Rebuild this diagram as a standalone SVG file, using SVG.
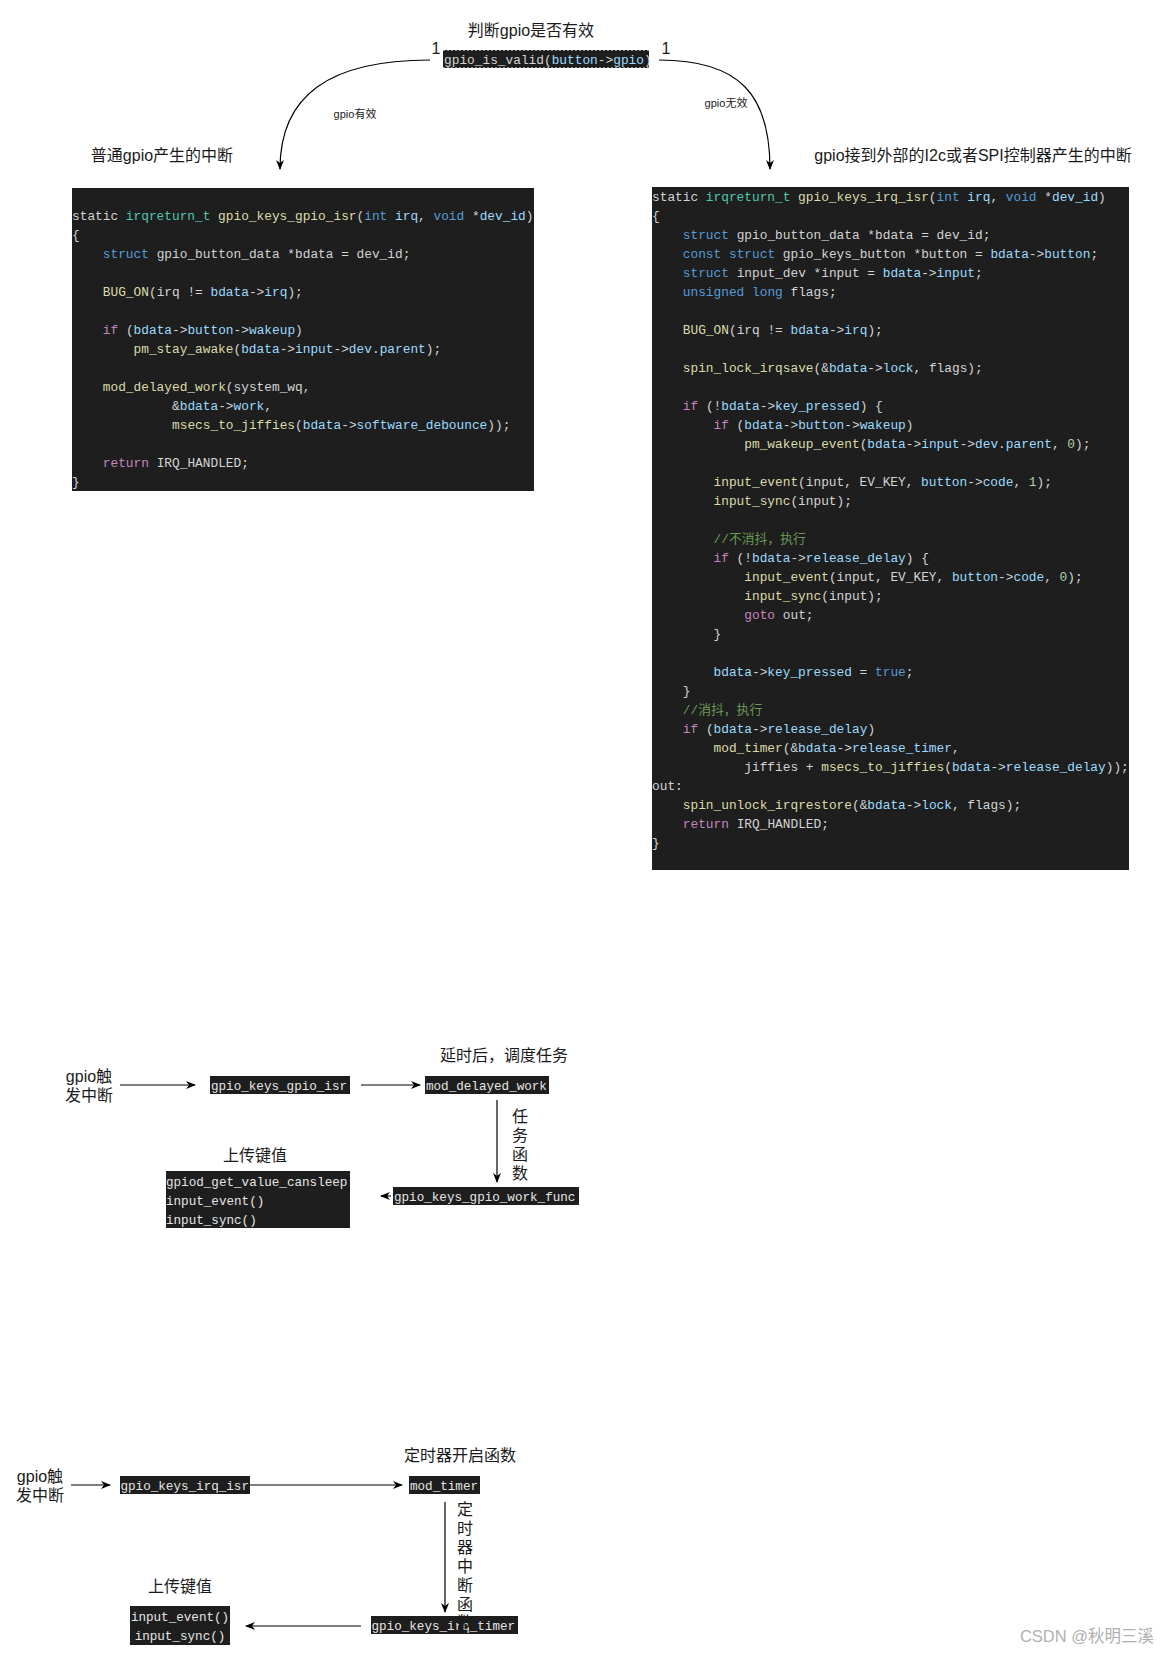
<svg xmlns="http://www.w3.org/2000/svg" width="1170" height="1654" viewBox="0 0 1170 1654">
<style>
.lbl{font-family:"Liberation Sans","Noto Sans CJK SC",sans-serif;font-size:16px;fill:#1a1a1a}
.sm{font-family:"Liberation Sans","Noto Sans CJK SC",sans-serif;font-size:11px;fill:#1a1a1a}
.code{font-family:"Liberation Mono","Noto Sans CJK SC",monospace;font-size:12.82px;fill:#d4d4d4}
.fc{font-family:"Liberation Mono","Noto Sans CJK SC",monospace;font-size:12.6px;fill:#e6e6e6}
.bg{fill:#1e1e1e}
.k{fill:#569cd6}.c{fill:#c586c0}.f{fill:#dcdcaa}.t{fill:#4ec9b0}.v{fill:#9cdcfe}.n{fill:#b5cea8}.m{fill:#6a9955}
.edge{fill:none;stroke:#000;stroke-width:1.2}
.wm{font-family:"Liberation Sans","Noto Sans CJK SC",sans-serif;font-size:16.5px;fill:#b0b0b0}
</style>
<defs>
<marker id="ah" viewBox="0 0 10 10" refX="9" refY="5" markerWidth="10" markerHeight="10" markerUnits="userSpaceOnUse" orient="auto"><path d="M0,1 L10,5 L0,9 L3,5 z" fill="#000"/></marker>
</defs>

<g id="connectors">
<path class="edge" d="M430,60 C330,60 280,95 280,169" marker-end="url(#ah)"/>
<path class="edge" d="M659,60 C740,60 770,95 770,169" marker-end="url(#ah)"/>
<path class="edge" d="M120,1085 L195,1085" stroke="#555" marker-end="url(#ah)"/>
<path class="edge" d="M361,1085 L420,1085" marker-end="url(#ah)"/>
<path class="edge" d="M497,1100 L497,1182" marker-end="url(#ah)"/>
<path class="edge" d="M391,1196 L381,1196" marker-end="url(#ah)"/>
<path class="edge" d="M71,1485 L110,1485" marker-end="url(#ah)"/>
<path class="edge" d="M250,1485 L402,1485" marker-end="url(#ah)"/>
<path class="edge" d="M445,1502 L445,1612" marker-end="url(#ah)"/>
<path class="edge" d="M361,1626 L246,1626" marker-end="url(#ah)"/>
</g>

<g id="edge-labels">
<text class="sm" x="355" y="118" text-anchor="middle">gpio有效</text>
<text class="sm" x="726" y="107" text-anchor="middle">gpio无效</text>
<text class="lbl" x="436" y="54" text-anchor="middle" font-size="13">1</text>
<text class="lbl" x="666" y="54" text-anchor="middle" font-size="13">1</text>
</g>

<g id="title">
<text class="lbl" x="531" y="36" text-anchor="middle">判断gpio是否有效</text>
</g>

<g id="node-valid">
<rect class="bg" x="443" y="50" width="206" height="18"/>
<path d="M443,50 H649 M443,68 H649" stroke="#fff" stroke-width="1" stroke-dasharray="2,2"/>
<text class="code" x="444" y="63.5" font-size="12.4">gpio_is_valid(<tspan class="v">button</tspan>-&gt;<tspan class="v">gpio</tspan>)</text>
</g>

<g id="label-left">
<text class="lbl" x="162" y="161" text-anchor="middle">普通gpio产生的中断</text>
</g>
<g id="label-right">
<text class="lbl" x="973" y="161" text-anchor="middle">gpio接到外部的I2c或者SPI控制器产生的中断</text>
</g>

<g id="node-gpio-isr-code">
<rect class="bg" x="72" y="188" width="462" height="303"/>
<text class="code" x="72" y="219.5">static <tspan class="t">irqreturn_t</tspan> <tspan class="f">gpio_keys_gpio_isr</tspan>(<tspan class="k">int</tspan> <tspan class="v">irq</tspan>, <tspan class="k">void</tspan> *<tspan class="v">dev_id</tspan>)</text>
<text class="code" x="72" y="238.5">{</text>
<text class="code" x="102.8" y="257.5"><tspan class="k">struct</tspan> gpio_button_data *bdata = dev_id;</text>
<text class="code" x="102.8" y="295.5"><tspan class="f">BUG_ON</tspan>(irq != <tspan class="v">bdata</tspan>-&gt;<tspan class="v">irq</tspan>);</text>
<text class="code" x="102.8" y="333.5"><tspan class="c">if</tspan> (<tspan class="v">bdata</tspan>-&gt;<tspan class="v">button</tspan>-&gt;<tspan class="v">wakeup</tspan>)</text>
<text class="code" x="133.5" y="352.5"><tspan class="f">pm_stay_awake</tspan>(<tspan class="v">bdata</tspan>-&gt;<tspan class="v">input</tspan>-&gt;<tspan class="v">dev</tspan>.<tspan class="v">parent</tspan>);</text>
<text class="code" x="102.8" y="390.5"><tspan class="f">mod_delayed_work</tspan>(system_wq,</text>
<text class="code" x="172" y="409.5">&amp;<tspan class="v">bdata</tspan>-&gt;<tspan class="v">work</tspan>,</text>
<text class="code" x="172" y="428.5"><tspan class="f">msecs_to_jiffies</tspan>(<tspan class="v">bdata</tspan>-&gt;<tspan class="v">software_debounce</tspan>));</text>
<text class="code" x="102.8" y="466.5"><tspan class="c">return</tspan> IRQ_HANDLED;</text>
<text class="code" x="72" y="485.5">}</text>
</g>

<g id="node-irq-isr-code">
<rect class="bg" x="652" y="187" width="477" height="683"/>
<text class="code" x="652" y="200.5">static <tspan class="t">irqreturn_t</tspan> <tspan class="f">gpio_keys_irq_isr</tspan>(<tspan class="k">int</tspan> <tspan class="v">irq</tspan>, <tspan class="k">void</tspan> *<tspan class="v">dev_id</tspan>)</text>
<text class="code" x="652" y="219.5">{</text>
<text class="code" x="682.8" y="238.5"><tspan class="k">struct</tspan> gpio_button_data *bdata = dev_id;</text>
<text class="code" x="682.8" y="257.5"><tspan class="k">const</tspan> <tspan class="k">struct</tspan> gpio_keys_button *button = <tspan class="v">bdata</tspan>-&gt;<tspan class="v">button</tspan>;</text>
<text class="code" x="682.8" y="276.5"><tspan class="k">struct</tspan> input_dev *input = <tspan class="v">bdata</tspan>-&gt;<tspan class="v">input</tspan>;</text>
<text class="code" x="682.8" y="295.5"><tspan class="k">unsigned</tspan> <tspan class="k">long</tspan> flags;</text>
<text class="code" x="682.8" y="333.5"><tspan class="f">BUG_ON</tspan>(irq != <tspan class="v">bdata</tspan>-&gt;<tspan class="v">irq</tspan>);</text>
<text class="code" x="682.8" y="371.5"><tspan class="f">spin_lock_irqsave</tspan>(&amp;<tspan class="v">bdata</tspan>-&gt;<tspan class="v">lock</tspan>, flags);</text>
<text class="code" x="682.8" y="409.5"><tspan class="c">if</tspan> (!<tspan class="v">bdata</tspan>-&gt;<tspan class="v">key_pressed</tspan>) {</text>
<text class="code" x="713.5" y="428.5"><tspan class="c">if</tspan> (<tspan class="v">bdata</tspan>-&gt;<tspan class="v">button</tspan>-&gt;<tspan class="v">wakeup</tspan>)</text>
<text class="code" x="744.3" y="447.5"><tspan class="f">pm_wakeup_event</tspan>(<tspan class="v">bdata</tspan>-&gt;<tspan class="v">input</tspan>-&gt;<tspan class="v">dev</tspan>.<tspan class="v">parent</tspan>, <tspan class="n">0</tspan>);</text>
<text class="code" x="713.5" y="485.5"><tspan class="f">input_event</tspan>(input, EV_KEY, <tspan class="v">button</tspan>-&gt;<tspan class="v">code</tspan>, <tspan class="n">1</tspan>);</text>
<text class="code" x="713.5" y="504.5"><tspan class="f">input_sync</tspan>(input);</text>
<text class="code m" x="713.5" y="542.5">//不消抖，执行</text>
<text class="code" x="713.5" y="561.5"><tspan class="c">if</tspan> (!<tspan class="v">bdata</tspan>-&gt;<tspan class="v">release_delay</tspan>) {</text>
<text class="code" x="744.3" y="580.5"><tspan class="f">input_event</tspan>(input, EV_KEY, <tspan class="v">button</tspan>-&gt;<tspan class="v">code</tspan>, <tspan class="n">0</tspan>);</text>
<text class="code" x="744.3" y="599.5"><tspan class="f">input_sync</tspan>(input);</text>
<text class="code" x="744.3" y="618.5"><tspan class="c">goto</tspan> out;</text>
<text class="code" x="713.5" y="637.5">}</text>
<text class="code" x="713.5" y="675.5"><tspan class="v">bdata</tspan>-&gt;<tspan class="v">key_pressed</tspan> = <tspan class="k">true</tspan>;</text>
<text class="code" x="682.8" y="694.5">}</text>
<text class="code m" x="682.8" y="713.5">//消抖，执行</text>
<text class="code" x="682.8" y="732.5"><tspan class="c">if</tspan> (<tspan class="v">bdata</tspan>-&gt;<tspan class="v">release_delay</tspan>)</text>
<text class="code" x="713.5" y="751.5"><tspan class="f">mod_timer</tspan>(&amp;<tspan class="v">bdata</tspan>-&gt;<tspan class="v">release_timer</tspan>,</text>
<text class="code" x="744.3" y="770.5">jiffies + <tspan class="f">msecs_to_jiffies</tspan>(<tspan class="v">bdata</tspan>-&gt;<tspan class="v">release_delay</tspan>));</text>
<text class="code" x="652" y="789.5">out:</text>
<text class="code" x="682.8" y="808.5"><tspan class="f">spin_unlock_irqrestore</tspan>(&amp;<tspan class="v">bdata</tspan>-&gt;<tspan class="v">lock</tspan>, flags);</text>
<text class="code" x="682.8" y="827.5"><tspan class="c">return</tspan> IRQ_HANDLED;</text>
<text class="code" x="652" y="846.5">}</text>
</g>

<!-- Flow 1 -->
<g id="f1-trigger">
<text class="lbl" x="89" y="1082" text-anchor="middle">gpio触</text>
<text class="lbl" x="89" y="1101" text-anchor="middle">发中断</text>
</g>
<g id="f1-gpio-isr">
<rect class="bg" x="210" y="1076" width="140" height="18"/>
<text class="fc" x="211" y="1089.5">gpio_keys_gpio_isr</text>
</g>
<g id="f1-mod-delayed">
<text class="lbl" x="504" y="1061" text-anchor="middle">延时后，调度任务</text>
<rect class="bg" x="425" y="1076" width="124" height="18"/>
<text class="fc" x="426" y="1089.5">mod_delayed_work</text>
</g>
<g id="f1-task-label">
<text class="lbl" x="520" y="1122" text-anchor="middle">任</text>
<text class="lbl" x="520" y="1141" text-anchor="middle">务</text>
<text class="lbl" x="520" y="1160" text-anchor="middle">函</text>
<text class="lbl" x="520" y="1179" text-anchor="middle">数</text>
</g>
<g id="f1-work-func">
<rect class="bg" x="393" y="1187" width="186" height="18"/>
<text class="fc" x="394" y="1200.5">gpio_keys_gpio_work_func</text>
</g>
<g id="f1-report">
<text class="lbl" x="255" y="1161" text-anchor="middle">上传键值</text>
<rect class="bg" x="166" y="1171" width="184" height="57"/>
<text class="fc" x="166" y="1185.5">gpiod_get_value_cansleep</text>
<text class="fc" x="166" y="1204.5">input_event()</text>
<text class="fc" x="166" y="1223.5">input_sync()</text>
</g>

<!-- Flow 2 -->
<g id="f2-trigger">
<text class="lbl" x="40" y="1482" text-anchor="middle">gpio触</text>
<text class="lbl" x="40" y="1501" text-anchor="middle">发中断</text>
</g>
<g id="f2-irq-isr">
<rect class="bg" x="120" y="1476" width="130" height="18"/>
<text class="fc" x="120.5" y="1489.5">gpio_keys_irq_isr</text>
</g>
<g id="f2-mod-timer">
<text class="lbl" x="460" y="1461" text-anchor="middle">定时器开启函数</text>
<rect class="bg" x="409" y="1476" width="71" height="18"/>
<text class="fc" x="410" y="1489.5">mod_timer</text>
</g>
<g id="f2-irq-timer">
<rect class="bg" x="371" y="1616" width="147" height="18"/>
<text class="fc" x="371.5" y="1629.5">gpio_keys_irq_timer</text>
</g>
<g id="f2-timer-label">
<text class="lbl" x="465" y="1515" text-anchor="middle">定</text>
<text class="lbl" x="465" y="1534" text-anchor="middle">时</text>
<text class="lbl" x="465" y="1553" text-anchor="middle">器</text>
<text class="lbl" x="465" y="1572" text-anchor="middle">中</text>
<text class="lbl" x="465" y="1591" text-anchor="middle">断</text>
<text class="lbl" x="465" y="1610" text-anchor="middle">函</text>
<text class="lbl" x="465" y="1628" text-anchor="middle" fill="#555">数</text>
</g>
<g id="f2-report">
<text class="lbl" x="180" y="1592" text-anchor="middle">上传键值</text>
<rect class="bg" x="130" y="1606" width="100" height="39"/>
<text class="fc" x="180" y="1621" text-anchor="middle">input_event()</text>
<text class="fc" x="180" y="1640" text-anchor="middle">input_sync()</text>
</g>

<text class="wm" x="1087" y="1642" text-anchor="middle">CSDN @秋明三溪</text>
</svg>
